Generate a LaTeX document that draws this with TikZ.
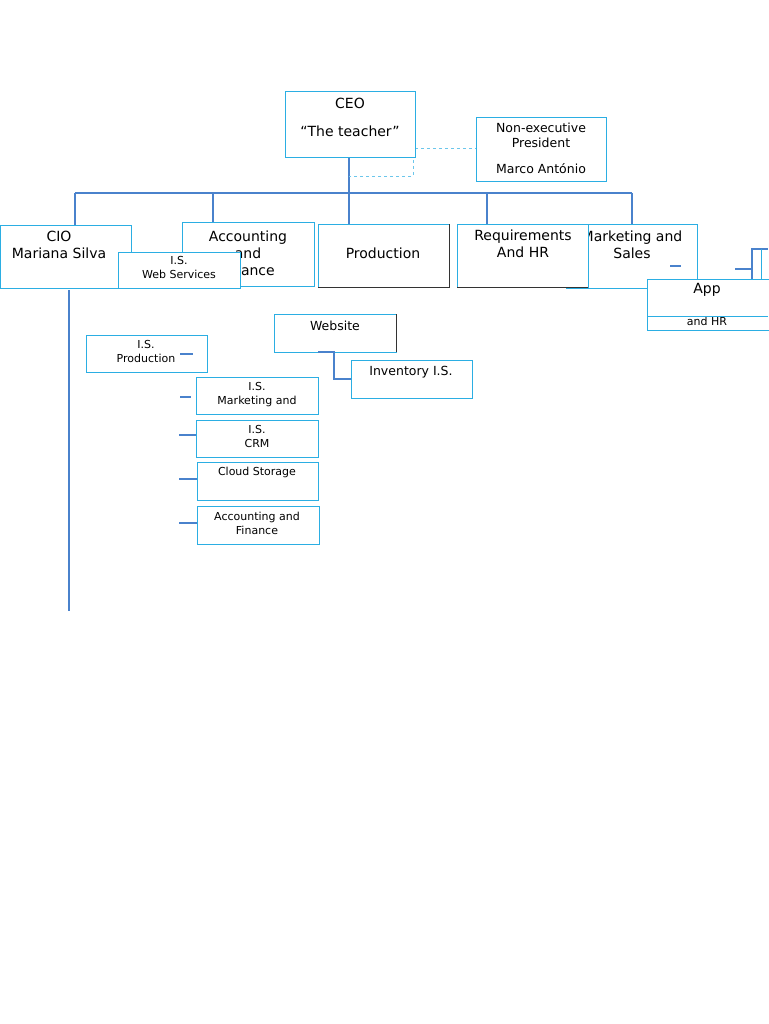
\documentclass[tikz,border=0pt]{standalone}
\usepackage{fontspec}
\setmainfont{DejaVu Sans}
\begin{document}
\begin{tikzpicture}[x=1pt,y=-1pt,
  bx/.style={draw=boxc,line width=0.9pt,fill=white},
  ln/.style={draw=linec,line width=1.3pt},
  big/.style={font=\fontsize{14}{17}\selectfont,align=center,inner sep=0},
  mid/.style={font=\fontsize{12.5}{15}\selectfont,align=center,inner sep=0},
  sm/.style={font=\fontsize{11}{14}\selectfont,align=center,inner sep=0}]
\definecolor{boxc}{HTML}{2BAEE3}
\definecolor{linec}{HTML}{4A82CC}
\useasboundingbox (0,0) rectangle (768,1024);
% connectors
\draw[ln] (75,193) -- (632,193);
\foreach \x/\y in {75/225,213/222,487/224,632/224} \draw[ln] (\x,193) -- (\x,\y);
\draw[ln] (349,157) -- (349,224);
\draw[ln] (69,290) -- (69,611);
\draw[draw=boxc!70,dashed,line width=0.8pt] (415,148) -- (476,148) (413,148) -- (413,176) -- (349,176);
% CEO
\node[bx,minimum width=130,minimum height=66,anchor=north west] (ceo) at (285,91) {};
\node[big] (ceot) at (350,103) {CEO};
\node[big] (ceot2) at (350,131) {“The teacher”};
\node[bx,minimum width=130,minimum height=64,anchor=north west] (ne) at (476,117) {};
\node[mid] (ne1) at (541,128) {Non-executive};
\node[mid] (ne2) at (541,143) {President};
\node[mid] (ne3) at (541,169) {Marco António};
% second row
\node[bx,minimum width=131,minimum height=63,anchor=north west] (cio) at (0,225) {};
\node[big] (ciot) at (59,245) {CIO\\Mariana Silva};
\node[bx,minimum width=132,minimum height=64,anchor=north west] (acc) at (182,222) {};
\node[big] (acct) at (248,253) {Accounting\\and\\Finance};
\node[bx,minimum width=122,minimum height=36,anchor=north west] (ws) at (118,252) {};
\node[sm] (wst) at (179,267) {I.S.\\Web Services};
\node[bx,minimum width=131,minimum height=63,anchor=north west] (prod) at (318,224) {};
\draw[black!80,line width=1pt] (318,287) -- (449,287) -- (449,224);
\node[big] (prodt) at (383,253) {Production};
\node[bx,minimum width=131,minimum height=64,anchor=north west] (mk) at (566,224) {};
\node[big] (mkt) at (632,245) {Marketing and\\Sales};
\draw[ln] (670,266) -- (681,266);
\node[bx,minimum width=131,minimum height=63,anchor=north west] (req) at (457,224) {};
\draw[black!80,line width=1pt] (457,287) -- (588,287);
\node[big] (reqt) at (523,244) {Requirements\\And HR};
% right edge
\draw[ln] (735,269) -- (752,269) (752,279) -- (752,249) -- (768,249);
\draw[bx] (761,249) -- (761,279);
\node[bx,minimum width=130,minimum height=51,anchor=north west] (app) at (647,279) {};
\node[big] (appt) at (707,290) {App};
\begin{scope}
\clip (647,316) rectangle (768,330);
\node[sm] (ahr) at (707,321) {and HR};
\end{scope}
\draw[bx] (647,316) -- (768,316);
% lower boxes
\node[bx,minimum width=122,minimum height=38,anchor=north west] (web) at (274,314) {};
\draw[black!80,line width=1pt] (396,314) -- (396,352);
\node[mid] (webt) at (335,326) {Website};
\node[bx,minimum width=121,minimum height=38,anchor=north west] (inv) at (351,360) {};
\node[mid] (invt) at (411,372) {Inventory I.S.};
\draw[ln] (318,352) -- (334,352) -- (334,379) -- (inv.west |- 0,379);
\node[bx,minimum width=121,minimum height=37,anchor=north west] (isp) at (86,335) {};
\node[sm] (ispt) at (146,351) {I.S.\\Production};
\draw[ln] (180,354) -- (193,354);
\node[bx,minimum width=122,minimum height=37,anchor=north west] (ism) at (196,377) {};
\begin{scope}\clip (196,377) rectangle (318,407);
\node[sm] (ismt) at (257,400) {I.S.\\Marketing and\\Sales};
\end{scope}
\draw[ln] (180,397) -- (191,397);
\node[bx,minimum width=122,minimum height=37,anchor=north west] (crm) at (196,420) {};
\node[sm] (crmt) at (257,436) {I.S.\\CRM};
\draw[ln] (179,435) -- (crm.west |- 0,435);
\node[bx,minimum width=121,minimum height=38,anchor=north west] (cs) at (197,462) {};
\node[sm] (cst) at (257,472) {Cloud Storage};
\draw[ln] (179,479) -- (cs.west |- 0,479);
\node[bx,minimum width=122,minimum height=38,anchor=north west] (af) at (197,506) {};
\node[sm] (aft) at (257,523) {Accounting and\\Finance};
\draw[ln] (179,523) -- (af.west |- 0,523);
\end{tikzpicture}
\end{document}
